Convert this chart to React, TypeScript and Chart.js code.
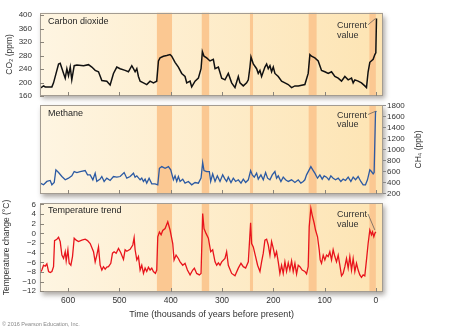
import React, { useEffect, useRef } from 'react';
import { Chart, registerables } from 'chart.js';
Chart.register(...registerables);

const FONT = "'Liberation Sans', Arial, Helvetica, sans-serif";
Chart.defaults.font.family = FONT;

// ---- Data (time in thousands of years before present) ----
const xTicks = [600, 500, 400, 300, 200, 100, 0];
const co2Ticks = [160, 200, 240, 280, 320, 360, 400];
const ch4Ticks = [200, 400, 600, 800, 1000, 1200, 1400, 1600, 1800];
const tempTicks = [-12, -10, -8, -6, -4, -2, 0, 2, 4, 6];

// Interglacial bands
const bandStart = [427, 339.5, 245.5, 131, 12.5];
const bandEnd = [397.5, 325, 239.5, 115.5, 0];

const co2Kyr = [
  654.5, 648, 644.8, 631.8, 628.6, 618.8, 615.6, 609, 605.8, 602.6,
  599.4, 596, 593, 588.3, 583, 570, 560.4, 553.9, 547.4, 540.9,
  534.4, 524.7, 518.2, 511.7, 505.2, 498.7, 489, 482.5, 476, 472.7,
  469.5, 466.2, 463, 459.7, 453.2, 446.8, 440.3, 433.8, 427.3, 424,
  420.8, 414.3, 407.8, 401.3, 398.1, 391.6, 385.1, 378.6, 372.1, 368.8,
  362.3, 359.1, 352.6, 346.1, 340.9, 338.3, 335.1, 329.9, 323.4, 316.9,
  313.6, 307.1, 300.6, 294.2, 287.7, 281.2, 274.7, 268.2, 265, 258.5,
  252, 248.7, 245.5, 243.5, 239, 232.5, 229.3, 226, 222.8, 216.3,
  213, 209.8, 206.5, 203.3, 200, 196.8, 190.3, 183.8, 177.3, 170.8,
  164.3, 157.8, 151.3, 138.4, 131.9, 128.6, 125.4, 118.9, 112.4, 105.9,
  99.4, 92.9, 86.4, 79.9, 73.4, 66.9, 60.4, 53.9, 47.4, 44.2,
  40.9, 34.5, 28, 21.5, 18.2, 15, 11.7, 5.2, 1.9, 0,
  -1.3,
];
const co2Ppm = [
  183, 190, 187, 187, 199, 255, 257, 227, 213, 241,
  220, 246, 208, 250, 252, 250, 253, 246, 236, 232,
  206, 204, 193, 227, 246, 241, 236, 232, 250, 241,
  232, 241, 218, 204, 199, 194, 204, 199, 204, 264,
  273, 278, 280, 283, 278, 260, 246, 227, 218, 199,
  204, 187, 204, 213, 241, 292, 278, 273, 264, 269,
  241, 246, 213, 208, 227, 199, 185, 218, 199, 190,
  199, 208, 246, 276, 255, 241, 227, 236, 218, 246,
  255, 241, 250, 232, 246, 227, 218, 204, 199, 194,
  185, 190, 190, 194, 227, 283, 278, 273, 264, 236,
  232, 227, 232, 218, 213, 204, 218, 208, 213, 199,
  208, 204, 199, 190, 185, 232, 260, 269, 283, 288,
  390,
];

const ch4Kyr = [
  654.5, 648.1, 641.6, 635.1, 631.8, 627.3, 624, 618.8, 612.3, 605.8,
  599.4, 592.9, 588.3, 583.1, 576.6, 566.9, 562.3, 557.1, 551.9, 547.4,
  544.2, 537.7, 534.4, 529.9, 524.7, 518.2, 511.7, 505.2, 498.7, 490.9,
  485.7, 479.2, 472.7, 469.5, 466.2, 459.7, 456.5, 453.2, 450, 446.8,
  442.2, 437, 430.5, 425.3, 422.1, 417.5, 411, 404.5, 400, 394.8,
  391.6, 388.3, 385.1, 381.8, 376.6, 372.1, 365.6, 359.1, 352.6, 346.1,
  340.9, 337.7, 335.1, 329.9, 324.7, 322.1, 318.2, 313.6, 309.1, 303.9,
  298.7, 294.2, 291, 287.7, 282.5, 278, 273.4, 268.2, 263, 258.5,
  253.9, 248.7, 244.2, 240.9, 237.1, 232.5, 229.3, 224.1, 219.5, 215,
  211.1, 206.5, 202, 196.8, 193.6, 190.3, 185.1, 180.6, 176, 170.8,
  164.3, 157.8, 151.3, 146.2, 141.6, 138.4, 135.1, 126.7, 122.1, 118.9,
  115.6, 113.7, 109.1, 104.6, 100.7, 96.1, 91.6, 87.7, 83.2, 78.6,
  73.4, 68.2, 63.7, 59.1, 53.9, 48.7, 44.2, 39.6, 34.5, 29.3,
  24.7, 20.2, 16.3, 11.7, 8.5, 5.2, 3.3, 0.6, -1.3,
];
const ch4Ppb = [
  387, 357, 418, 436, 357, 399, 629, 581, 508, 448,
  478, 520, 599, 581, 599, 617, 538, 538, 448, 569,
  418, 460, 508, 418, 478, 436, 508, 496, 508, 581,
  478, 508, 569, 496, 520, 448, 478, 418, 460, 387,
  478, 375, 375, 357, 659, 689, 659, 689, 629, 448,
  520, 418, 508, 418, 460, 387, 418, 357, 399, 387,
  478, 762, 617, 599, 599, 418, 556, 418, 520, 418,
  538, 460, 418, 496, 399, 478, 418, 448, 387, 460,
  399, 448, 617, 538, 496, 569, 460, 538, 448, 581,
  478, 448, 538, 599, 478, 520, 418, 496, 448, 418,
  448, 399, 448, 387, 418, 448, 538, 689, 617, 569,
  508, 478, 538, 460, 520, 496, 448, 520, 478, 448,
  478, 418, 460, 436, 496, 418, 496, 448, 508, 418,
  357, 357, 448, 629, 599, 556, 581, 1686, 1698,
];

const tempKyr = [
  654.5, 651.3, 648.1, 644.8, 641.6, 638.3, 635.1, 631.8, 628.6, 626.6,
  622.1, 618.8, 615.6, 612.3, 609.1, 605.8, 603.9, 600.6, 598.1, 594.8,
  591.6, 588.3, 584.4, 579.9, 573.4, 566.9, 562.3, 557.1, 550.6, 547.4,
  544.2, 540.9, 537.7, 534.4, 531.2, 527.9, 524.7, 521.4, 516.9, 513.6,
  510.4, 506.5, 501.9, 497.4, 492.2, 489, 485.7, 479.2, 474, 471.4,
  469.5, 466.2, 463, 459.7, 456.5, 453.2, 450, 446.8, 443.5, 440.3,
  437, 433.8, 429.9, 427.3, 425.3, 422.1, 418.8, 415.6, 411, 405.8,
  401.3, 396.1, 393.5, 389.6, 385.1, 381.8, 376.6, 372.1, 367.5, 362.3,
  357.1, 353.9, 349.4, 344.2, 340.9, 337.7, 335.1, 331.2, 326.6, 322.1,
  318.2, 313.6, 310.4, 307.1, 303.9, 300.6, 294.2, 291, 287.7, 281.2,
  274.7, 268.2, 263, 258.5, 253.9, 248.7, 244.2, 242.3, 239, 234.5,
  230.6, 226, 222.8, 219.5, 216.3, 213, 209.8, 206.5, 203.3, 200,
  196.8, 193.6, 190.3, 187.1, 183.8, 180.6, 177.3, 174.1, 170.8, 167.6,
  164.3, 161.1, 157.8, 154.6, 151.3, 148.1, 143.6, 138.4, 135.1, 131.9,
  129.9, 126.7, 124.1, 120.2, 117.6, 113.7, 110.4, 108.5, 105.9, 102.6,
  99.4, 96.1, 92.9, 89.7, 86.4, 83.2, 79.9, 76.7, 73.4, 70.2,
  66.9, 63.7, 60.4, 57.2, 53.9, 50.7, 47.4, 44.2, 40.9, 37.7,
  34.5, 31.2, 28, 24.7, 21.5, 18.2, 15, 11.7, 8.5, 6.5,
  3.9, 1.9, 0,
];
const tempC = [
  -8.1, -7.6, -6.6, -6.8, -6.3, -7.9, -8.1, -7.9, -6.9, -1.5,
  -1.2, -0.8, -1.7, -4.5, -5.2, -3.8, -5.7, -3.4, -6.2, -6.6,
  -4.8, -1.0, -1.4, -1.7, -1.4, -1.2, -1.5, -2.1, -3.8, -5.9,
  -4.5, -2.8, -6.6, -7.6, -6.9, -7.4, -7.0, -6.9, -6.2, -4.1,
  -3.8, -4.1, -3.1, -4.0, -5.4, -3.4, -3.7, -3.3, -2.4, -0.9,
  -3.4, -5.5, -4.8, -7.6, -6.6, -8.3, -7.2, -7.9, -7.0, -7.6,
  -7.2, -7.9, -8.3, -7.6, -0.7, 0.3, -0.3, 0.6, 1.0, 2.4,
  0.7, -2.1, -5.5, -4.5, -5.2, -5.9, -6.6, -6.2, -7.6, -8.6,
  -7.6, -7.2, -8.3, -8.6, -8.3, 4.1, 1.0, 0.0, -1.0, -3.8,
  -3.4, -5.9, -6.6, -6.1, -6.6, -5.9, -5.2, -3.8, -6.6, -8.3,
  -8.8, -7.2, -6.2, -6.9, -7.2, -5.9, 2.2, -2.1, -2.8, -4.8,
  -6.6, -7.9, -5.9, -4.1, -1.4, -1.2, -2.4, -4.5, -1.7, -3.1,
  -4.8, -3.8, -5.9, -8.3, -6.6, -8.3, -5.9, -7.9, -6.1, -7.6,
  -5.7, -7.9, -6.2, -8.4, -6.6, -6.9, -7.6, -7.9, -8.4, -6.9,
  1.4, 5.2, 3.8, 2.1, 0.7, -0.7, -3.4, -5.5, -6.2, -4.5,
  -5.5, -4.5, -4.8, -3.8, -5.5, -3.4, -4.8, -5.9, -4.5, -6.6,
  -8.8, -8.3, -6.9, -5.2, -7.2, -4.8, -7.6, -5.2, -7.9, -6.2,
  -7.6, -8.6, -9.1, -8.6, -8.8, -5.5, -2.1, 0.7, -0.3, 0.3,
  -0.7, 0.0, 0.3,
];

const X_MIN = -14;
const X_MAX = 655;

const panelPlugin = {
  id: 'panelDeco',
  beforeDraw(chart: any) {
    const { ctx, chartArea: a } = chart;
    const xs = chart.scales.x;
    ctx.save();
    ctx.shadowColor = 'rgba(70,60,50,0.45)';
    ctx.shadowBlur = 5;
    ctx.shadowOffsetX = 2;
    ctx.shadowOffsetY = 3;
    const g = ctx.createLinearGradient(a.left, 0, a.right, 0);
    g.addColorStop(0, '#fef5e2');
    g.addColorStop(1, '#fde4b3');
    ctx.fillStyle = g;
    ctx.fillRect(a.left, a.top, a.right - a.left, a.bottom - a.top);
    ctx.restore();
    ctx.save();
    ctx.fillStyle = '#fbc892';
    for (let i = 0; i < bandStart.length; i++) {
      const p1 = xs.getPixelForValue(bandStart[i]);
      const p2 = xs.getPixelForValue(bandEnd[i]);
      ctx.fillRect(Math.min(p1, p2), a.top, Math.abs(p2 - p1), a.bottom - a.top);
    }
    ctx.restore();
  },
  afterDraw(chart: any) {
    const o = chart.options.plugins.panelDeco;
    const { ctx, chartArea: a } = chart;
    const xs = chart.scales.x;
    const ys = chart.scales.y;
    ctx.save();
    ctx.strokeStyle = '#a39c92';
    ctx.lineWidth = 1;
    ctx.strokeRect(Math.round(a.left) + 0.5, Math.round(a.top) + 0.5,
      Math.round(a.right - a.left) - 1, Math.round(a.bottom - a.top) - 1);
    ctx.strokeStyle = '#8a847a';
    ctx.beginPath();
    for (const v of xTicks) {
      const px = Math.round(xs.getPixelForValue(v)) + 0.5;
      ctx.moveTo(px, a.bottom);
      ctx.lineTo(px, a.bottom - 4);
    }
    if (o.leftTicks) {
      for (const v of o.leftTicks) {
        const py = Math.round(ys.getPixelForValue(v)) + 0.5;
        ctx.moveTo(a.left, py);
        ctx.lineTo(a.left + 4, py);
      }
    }
    ctx.stroke();

    ctx.fillStyle = '#262626';
    ctx.font = `9px ${FONT}`;
    ctx.textBaseline = 'middle';
    ctx.textAlign = 'left';
    ctx.fillText(o.title, a.left + 8, a.top + o.titleDy);

    const tx = a.right - 46;
    const ty = a.top + o.curDy;
    ctx.fillStyle = '#333';
    ctx.fillText('Current', tx, ty);
    ctx.fillText('value', tx, ty + 9.5);
    const w = ctx.measureText('Current').width;
    const ds = chart.data.datasets[0].data;
    const last = ds[ds.length - 1];
    const lx = xs.getPixelForValue(last.x);
    const ly = ys.getPixelForValue(last.y);
    ctx.strokeStyle = '#555';
    ctx.lineWidth = 0.7;
    ctx.beginPath();
    ctx.moveTo(tx + w + 1, ty - 1);
    ctx.lineTo(lx - 1, ly + o.leadDy);
    ctx.stroke();

    if (o.rightTitle) {
      ctx.save();
      ctx.translate(a.right + 36, (a.top + a.bottom) / 2);
      ctx.rotate(-Math.PI / 2);
      ctx.textAlign = 'center';
      ctx.fillStyle = '#333';
      ctx.font = `8.5px ${FONT}`;
      ctx.fillText(o.rightTitle, 0, 0);
      ctx.restore();
    }
    if (o.copyright) {
      ctx.fillStyle = '#888';
      ctx.font = `5.5px ${FONT}`;
      ctx.textBaseline = 'alphabetic';
      ctx.textAlign = 'left';
      ctx.fillText(o.copyright, 2, 326);
    }
    ctx.restore();
  },
};

const tickFont = { size: 8, family: FONT };
const titleFont = { size: 8.5, family: FONT };
const plain = (v: any) => String(v).replace('-', '\u2212');

function pts(xs: number[], ys: number[]) {
  return xs.map((x, i) => ({ x, y: ys[i] }));
}

function baseOptions(padding: any, deco: any) {
  return {
    animation: false,
    responsive: false,
    devicePixelRatio: 1,
    layout: { padding },
    plugins: { legend: { display: false }, tooltip: { enabled: false }, panelDeco: deco },
    elements: { point: { radius: 0 }, line: { tension: 0 } },
  };
}

function co2Config(): any {
  return {
    type: 'line',
    data: { datasets: [{ data: pts(co2Kyr, co2Ppm), borderColor: '#111', borderWidth: 1.5, pointRadius: 0 }] },
    options: {
      ...baseOptions({ top: 7, bottom: 232, left: 0, right: 66 },
        { title: 'Carbon dioxide', titleDy: 8.5, curDy: 13, leadDy: 0, leftTicks: co2Ticks }),
      scales: {
        x: { type: 'linear', reverse: true, min: X_MIN, max: X_MAX, display: false },
        y: {
          position: 'left', min: 160, max: 407,
          afterFit: (s: any) => { s.width = 40; },
          afterBuildTicks: (s: any) => { s.ticks = co2Ticks.map((v) => ({ value: v })); },
          grid: { display: false, drawTicks: false }, border: { display: false },
          ticks: { font: tickFont, color: '#333', padding: 8, autoSkip: false, callback: plain },
          title: { display: true, text: 'CO\u2082 (ppm)', font: titleFont, color: '#333', padding: { top: 4.6, bottom: 0 } },
        },
      },
    },
    plugins: [panelPlugin],
  };
}

function ch4Config(): any {
  return {
    type: 'line',
    data: { datasets: [{ data: pts(ch4Kyr, ch4Ppb), borderColor: '#2c5aa3', borderWidth: 1.3, pointRadius: 0 }] },
    options: {
      ...baseOptions({ top: 105, bottom: 134, left: 40, right: 0 },
        { title: 'Methane', titleDy: 9, curDy: 10.5, leadDy: 0, rightTitle: 'CH\u2084 (ppb)' }),
      scales: {
        x: { type: 'linear', reverse: true, min: X_MIN, max: X_MAX, display: false },
        y: {
          position: 'right', min: 189, max: 1813,
          afterFit: (s: any) => { s.width = 66; },
          afterBuildTicks: (s: any) => { s.ticks = ch4Ticks.map((v) => ({ value: v })); },
          grid: { display: true, drawOnChartArea: false, drawTicks: true, tickLength: 3, color: '#777', lineWidth: 0.8 },
          border: { display: false },
          ticks: { font: tickFont, color: '#333', padding: 1, autoSkip: false, callback: plain },
        },
      },
    },
    plugins: [panelPlugin],
  };
}

function tempConfig(): any {
  return {
    type: 'line',
    data: { datasets: [{ data: pts(tempKyr, tempC), borderColor: '#e8141c', borderWidth: 1.3, pointRadius: 0 }] },
    options: {
      ...baseOptions({ top: 203, bottom: 0, left: 0, right: 66 },
        { title: 'Temperature trend', titleDy: 7.5, curDy: 12, leadDy: -2, leftTicks: tempTicks,
          copyright: '\u00A9 2016 Pearson Education, Inc.' }),
      scales: {
        x: {
          type: 'linear', reverse: true, min: X_MIN, max: X_MAX, position: 'bottom',
          afterFit: (s: any) => { s.height = 36; },
          afterBuildTicks: (s: any) => { s.ticks = xTicks.map((v) => ({ value: v })); },
          grid: { display: false, drawTicks: false }, border: { display: false },
          ticks: { font: { size: 8.5, family: FONT }, color: '#333', padding: 4, maxRotation: 0, autoSkip: false, callback: plain },
          title: { display: true, text: 'Time (thousands of years before present)', font: { size: 9, family: FONT }, color: '#333', padding: { top: 0, bottom: 7.6 } },
        },
        y: {
          position: 'left', min: -12.15, max: 6.3,
          afterFit: (s: any) => { s.width = 40; },
          afterBuildTicks: (s: any) => { s.ticks = tempTicks.map((v) => ({ value: v })); },
          grid: { display: false, drawTicks: false }, border: { display: false },
          ticks: { font: tickFont, color: '#333', padding: 4, autoSkip: false, callback: plain },
          title: { display: true, text: 'Temperature change (\u00B0C)', font: titleFont, color: '#333', padding: { top: 1.3, bottom: 0 } },
        },
      },
    },
    plugins: [panelPlugin],
  };
}

export default function App() {
  const r1 = useRef<HTMLCanvasElement>(null);
  const r2 = useRef<HTMLCanvasElement>(null);
  const r3 = useRef<HTMLCanvasElement>(null);
  useEffect(() => {
    const charts = [
      new Chart(r1.current as HTMLCanvasElement, co2Config()),
      new Chart(r2.current as HTMLCanvasElement, ch4Config()),
      new Chart(r3.current as HTMLCanvasElement, tempConfig()),
    ];
    return () => charts.forEach((c) => c.destroy());
  }, []);
  const st: React.CSSProperties = { position: 'absolute', left: 0, top: 0, width: 449, height: 328 };
  return (
    <div style={{ position: 'absolute', left: 0, top: 0, width: 449, height: 328, background: '#fff', overflow: 'hidden' }}>
      <canvas ref={r1} width={449} height={328} style={st} />
      <canvas ref={r2} width={449} height={328} style={st} />
      <canvas ref={r3} width={449} height={328} style={st} />
    </div>
  );
}
